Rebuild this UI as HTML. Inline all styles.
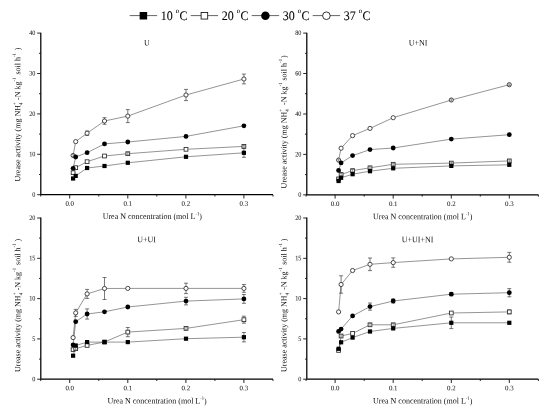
<!DOCTYPE html>
<html><head><meta charset="utf-8"><title>Urease activity</title>
<style>
html,body{margin:0;padding:0;background:#fff}
svg{display:block}
text{font-family:"Liberation Serif","DejaVu Serif",serif;fill:#1a1a1a}
.tk{font-size:6.9px;fill:#111;stroke:#111;stroke-width:0.03px}
.lb{font-size:8px;fill:#111}
.ss{font-size:4.8px}
.lg{font-size:13px;fill:#000;stroke:#000;stroke-width:0.08px}
</style></head><body>
<svg width="550" height="412" viewBox="0 0 550 412">
<rect width="550" height="412" fill="#fff"/>
<polyline points="73.1,178.5 75.7,175.9 87.1,168.0 104.5,166.0 127.8,162.8 186.0,156.8 243.9,152.8" fill="none" stroke="#2a2a2a" stroke-width="0.5"/>
<polyline points="73.1,172.7 75.7,167.7 87.1,161.7 104.5,156.0 127.8,153.7 186.0,149.3 243.9,146.4" fill="none" stroke="#2a2a2a" stroke-width="0.5"/>
<polyline points="73.1,168.3 75.7,157.0 87.1,152.7 104.5,143.9 127.8,142.0 186.0,136.4 243.9,125.8" fill="none" stroke="#2a2a2a" stroke-width="0.5"/>
<polyline points="73.1,155.5 75.7,141.6 87.1,133.2 104.5,121.0 127.8,116.1 186.0,95.0 243.9,79.0" fill="none" stroke="#2a2a2a" stroke-width="0.5"/>
<path d="M243.9 148.3V157.3M241.9 148.3h4M241.9 157.3h4" stroke="#333" stroke-width="0.65" fill="none"/>
<path d="M87.1 131.0V135.4M85.1 131.0h4M85.1 135.4h4" stroke="#333" stroke-width="0.65" fill="none"/>
<path d="M104.5 117.7V124.3M102.5 117.7h4M102.5 124.3h4" stroke="#333" stroke-width="0.65" fill="none"/>
<path d="M127.8 109.6V122.6M125.8 109.6h4M125.8 122.6h4" stroke="#333" stroke-width="0.65" fill="none"/>
<path d="M186.0 89.4V100.6M184.0 89.4h4M184.0 100.6h4" stroke="#333" stroke-width="0.65" fill="none"/>
<path d="M243.9 74.1V83.9M241.9 74.1h4M241.9 83.9h4" stroke="#333" stroke-width="0.65" fill="none"/>
<rect x="71.20" y="170.80" width="3.80" height="3.80" fill="#fff" stroke="#2a2a2a" stroke-width="0.85"/>
<rect x="73.80" y="165.80" width="3.80" height="3.80" fill="#fff" stroke="#2a2a2a" stroke-width="0.85"/>
<rect x="85.20" y="159.80" width="3.80" height="3.80" fill="#fff" stroke="#2a2a2a" stroke-width="0.85"/>
<rect x="102.60" y="154.10" width="3.80" height="3.80" fill="#fff" stroke="#2a2a2a" stroke-width="0.85"/>
<rect x="125.90" y="151.80" width="3.80" height="3.80" fill="#fff" stroke="#2a2a2a" stroke-width="0.85"/>
<rect x="184.10" y="147.40" width="3.80" height="3.80" fill="#fff" stroke="#2a2a2a" stroke-width="0.85"/>
<rect x="242.00" y="144.50" width="3.80" height="3.80" fill="#fff" stroke="#2a2a2a" stroke-width="0.85"/>
<circle cx="73.10" cy="155.50" r="2.1" fill="#fff" stroke="#2a2a2a" stroke-width="0.85"/>
<circle cx="75.70" cy="141.60" r="2.1" fill="#fff" stroke="#2a2a2a" stroke-width="0.85"/>
<circle cx="87.10" cy="133.20" r="2.1" fill="#fff" stroke="#2a2a2a" stroke-width="0.85"/>
<circle cx="104.50" cy="121.00" r="2.1" fill="#fff" stroke="#2a2a2a" stroke-width="0.85"/>
<circle cx="127.80" cy="116.10" r="2.1" fill="#fff" stroke="#2a2a2a" stroke-width="0.85"/>
<circle cx="186.00" cy="95.00" r="2.1" fill="#fff" stroke="#2a2a2a" stroke-width="0.85"/>
<circle cx="243.90" cy="79.00" r="2.1" fill="#fff" stroke="#2a2a2a" stroke-width="0.85"/>
<path d="M127.8 152.6V154.8M126.2 152.6h3.2M126.2 154.8h3.2" stroke="#555" stroke-width="0.6" fill="none"/>
<path d="M243.9 145.5V147.3M242.3 145.5h3.2M242.3 147.3h3.2" stroke="#555" stroke-width="0.6" fill="none"/>
<path d="M73.1 154.3V156.7M71.5 154.3h3.2M71.5 156.7h3.2" stroke="#555" stroke-width="0.6" fill="none"/>
<rect x="71.00" y="176.40" width="4.20" height="4.20" fill="#000"/>
<rect x="73.60" y="173.80" width="4.20" height="4.20" fill="#000"/>
<rect x="85.00" y="165.90" width="4.20" height="4.20" fill="#000"/>
<rect x="102.40" y="163.90" width="4.20" height="4.20" fill="#000"/>
<rect x="125.70" y="160.70" width="4.20" height="4.20" fill="#000"/>
<rect x="183.90" y="154.70" width="4.20" height="4.20" fill="#000"/>
<rect x="241.80" y="150.70" width="4.20" height="4.20" fill="#000"/>
<circle cx="73.10" cy="168.30" r="2.4" fill="#000"/>
<circle cx="75.70" cy="157.00" r="2.4" fill="#000"/>
<circle cx="87.10" cy="152.70" r="2.4" fill="#000"/>
<circle cx="104.50" cy="143.90" r="2.4" fill="#000"/>
<circle cx="127.80" cy="142.00" r="2.4" fill="#000"/>
<circle cx="186.00" cy="136.40" r="2.4" fill="#000"/>
<circle cx="243.90" cy="125.80" r="2.4" fill="#000"/>
<path d="M40.8 32.65V194.7H273.0" stroke="#000" stroke-width="1.25" fill="none"/>
<path d="M40.8 194.7h-3.6M40.8 154.3h-3.6M40.8 113.9h-3.6M40.8 73.5h-3.6M40.8 33.1h-3.6M40.8 174.5h-1.8M40.8 134.1h-1.8M40.8 93.7h-1.8M40.8 53.3h-1.8M69.7 194.7v3.8M127.8 194.7v3.8M185.9 194.7v3.8M243.9 194.7v3.8M40.7 194.7v1.8M98.8 194.7v1.8M156.8 194.7v1.8M214.9 194.7v1.8M273.0 194.7v1.8" stroke="#111" stroke-width="0.9" fill="none"/>
<text transform="translate(35.4 196.7) rotate(0.05) scale(0.9 1)" text-anchor="end" class="tk">0</text>
<text transform="translate(35.4 156.3) rotate(0.05) scale(0.9 1)" text-anchor="end" class="tk">10</text>
<text transform="translate(35.4 115.9) rotate(0.05) scale(0.9 1)" text-anchor="end" class="tk">20</text>
<text transform="translate(35.4 75.5) rotate(0.05) scale(0.9 1)" text-anchor="end" class="tk">30</text>
<text transform="translate(35.4 35.1) rotate(0.05) scale(0.9 1)" text-anchor="end" class="tk">40</text>
<text transform="translate(69.7 205.8) rotate(0.05)" text-anchor="middle" class="tk">0.0</text>
<text transform="translate(127.8 205.8) rotate(0.05)" text-anchor="middle" class="tk">0.1</text>
<text transform="translate(185.9 205.8) rotate(0.05)" text-anchor="middle" class="tk">0.2</text>
<text transform="translate(243.9 205.8) rotate(0.05)" text-anchor="middle" class="tk">0.3</text>
<text transform="translate(146.8 45.45) rotate(0.05) scale(0.93 1)" text-anchor="middle" class="lb" style="font-size:8.6px">U</text>
<text transform="translate(20.3 181.6) rotate(-90.04)" text-anchor="start" class="lb">Urease activity (mg NH<tspan class="ss" dy="2.2">4</tspan><tspan class="ss" dx="-2.4" dy="-6.4">+</tspan><tspan dy="4.2" dx="2.3">-N kg</tspan><tspan class="ss" dy="-4.4">-1</tspan><tspan dy="4.4" dx="0.9"> soil h</tspan><tspan class="ss" dy="-4.4">-1</tspan><tspan dy="4.4" dx="2.8">)</tspan></text>
<text transform="translate(152.3 219.0) rotate(0.04) scale(0.965 1)" text-anchor="middle" class="lb" style="font-size:8.3px">Urea N concentration (mol L<tspan class="ss" dy="-3.9">-1</tspan><tspan dy="3.9">)</tspan></text>
<polyline points="338.6,181.0 341.1,177.8 352.6,174.2 370.0,171.2 393.2,168.3 451.3,165.9 509.3,164.8" fill="none" stroke="#2a2a2a" stroke-width="0.5"/>
<polyline points="338.6,178.9 341.1,174.5 352.6,170.6 370.0,167.8 393.2,164.3 451.3,163.1 509.3,160.9" fill="none" stroke="#2a2a2a" stroke-width="0.5"/>
<polyline points="338.6,170.4 341.1,162.9 352.6,155.6 370.0,149.6 393.2,148.0 451.3,139.1 509.3,134.7" fill="none" stroke="#2a2a2a" stroke-width="0.5"/>
<polyline points="338.6,160.1 341.1,148.2 352.6,135.6 370.0,128.4 393.2,117.7 451.3,100.0 509.3,84.7" fill="none" stroke="#2a2a2a" stroke-width="0.5"/>
<rect x="336.70" y="177.00" width="3.80" height="3.80" fill="#fff" stroke="#2a2a2a" stroke-width="0.85"/>
<rect x="339.20" y="172.60" width="3.80" height="3.80" fill="#fff" stroke="#2a2a2a" stroke-width="0.85"/>
<rect x="350.70" y="168.70" width="3.80" height="3.80" fill="#fff" stroke="#2a2a2a" stroke-width="0.85"/>
<rect x="368.10" y="165.90" width="3.80" height="3.80" fill="#fff" stroke="#2a2a2a" stroke-width="0.85"/>
<rect x="391.30" y="162.40" width="3.80" height="3.80" fill="#fff" stroke="#2a2a2a" stroke-width="0.85"/>
<rect x="449.40" y="161.20" width="3.80" height="3.80" fill="#fff" stroke="#2a2a2a" stroke-width="0.85"/>
<rect x="507.40" y="159.00" width="3.80" height="3.80" fill="#fff" stroke="#2a2a2a" stroke-width="0.85"/>
<circle cx="338.60" cy="160.10" r="2.1" fill="#fff" stroke="#2a2a2a" stroke-width="0.85"/>
<circle cx="341.10" cy="148.20" r="2.1" fill="#fff" stroke="#2a2a2a" stroke-width="0.85"/>
<circle cx="352.60" cy="135.60" r="2.1" fill="#fff" stroke="#2a2a2a" stroke-width="0.85"/>
<circle cx="370.00" cy="128.40" r="2.1" fill="#fff" stroke="#2a2a2a" stroke-width="0.85"/>
<circle cx="393.20" cy="117.70" r="2.1" fill="#fff" stroke="#2a2a2a" stroke-width="0.85"/>
<circle cx="451.30" cy="100.00" r="2.1" fill="#fff" stroke="#2a2a2a" stroke-width="0.85"/>
<circle cx="509.30" cy="84.70" r="2.1" fill="#fff" stroke="#2a2a2a" stroke-width="0.85"/>
<path d="M338.6 177.8V180.0M337.0 177.8h3.2M337.0 180.0h3.2" stroke="#555" stroke-width="0.6" fill="none"/>
<path d="M341.1 173.4V175.6M339.5 173.4h3.2M339.5 175.6h3.2" stroke="#555" stroke-width="0.6" fill="none"/>
<path d="M352.6 169.5V171.7M351.0 169.5h3.2M351.0 171.7h3.2" stroke="#555" stroke-width="0.6" fill="none"/>
<path d="M370.0 166.7V168.9M368.4 166.7h3.2M368.4 168.9h3.2" stroke="#555" stroke-width="0.6" fill="none"/>
<path d="M393.2 163.2V165.4M391.6 163.2h3.2M391.6 165.4h3.2" stroke="#555" stroke-width="0.6" fill="none"/>
<path d="M451.3 162.0V164.2M449.7 162.0h3.2M449.7 164.2h3.2" stroke="#555" stroke-width="0.6" fill="none"/>
<path d="M509.3 159.8V162.0M507.7 159.8h3.2M507.7 162.0h3.2" stroke="#555" stroke-width="0.6" fill="none"/>
<path d="M338.6 159.0V161.2M337.0 159.0h3.2M337.0 161.2h3.2" stroke="#555" stroke-width="0.6" fill="none"/>
<path d="M451.3 98.9V101.1M449.7 98.9h3.2M449.7 101.1h3.2" stroke="#555" stroke-width="0.6" fill="none"/>
<path d="M509.3 83.9V85.5M507.7 83.9h3.2M507.7 85.5h3.2" stroke="#555" stroke-width="0.6" fill="none"/>
<rect x="336.50" y="178.90" width="4.20" height="4.20" fill="#000"/>
<rect x="339.00" y="175.70" width="4.20" height="4.20" fill="#000"/>
<rect x="350.50" y="172.10" width="4.20" height="4.20" fill="#000"/>
<rect x="367.90" y="169.10" width="4.20" height="4.20" fill="#000"/>
<rect x="391.10" y="166.20" width="4.20" height="4.20" fill="#000"/>
<rect x="449.20" y="163.80" width="4.20" height="4.20" fill="#000"/>
<rect x="507.20" y="162.70" width="4.20" height="4.20" fill="#000"/>
<circle cx="338.60" cy="170.40" r="2.4" fill="#000"/>
<circle cx="341.10" cy="162.90" r="2.4" fill="#000"/>
<circle cx="352.60" cy="155.60" r="2.4" fill="#000"/>
<circle cx="370.00" cy="149.60" r="2.4" fill="#000"/>
<circle cx="393.20" cy="148.00" r="2.4" fill="#000"/>
<circle cx="451.30" cy="139.10" r="2.4" fill="#000"/>
<circle cx="509.30" cy="134.70" r="2.4" fill="#000"/>
<path d="M306.8 32.65V194.8H538.4" stroke="#000" stroke-width="1.25" fill="none"/>
<path d="M306.8 194.8h-3.6M306.8 154.4h-3.6M306.8 114.0h-3.6M306.8 73.5h-3.6M306.8 33.1h-3.6M306.8 174.6h-1.8M306.8 134.2h-1.8M306.8 93.7h-1.8M306.8 53.3h-1.8M335.1 194.8v3.8M393.2 194.8v3.8M451.3 194.8v3.8M509.3 194.8v3.8M306.1 194.8v1.8M364.2 194.8v1.8M422.2 194.8v1.8M480.3 194.8v1.8M538.4 194.8v1.8" stroke="#111" stroke-width="0.9" fill="none"/>
<text transform="translate(301.4 196.8) rotate(0.05) scale(0.9 1)" text-anchor="end" class="tk">0</text>
<text transform="translate(301.4 156.4) rotate(0.05) scale(0.9 1)" text-anchor="end" class="tk">20</text>
<text transform="translate(301.4 116.0) rotate(0.05) scale(0.9 1)" text-anchor="end" class="tk">40</text>
<text transform="translate(301.4 75.5) rotate(0.05) scale(0.9 1)" text-anchor="end" class="tk">60</text>
<text transform="translate(301.4 35.1) rotate(0.05) scale(0.9 1)" text-anchor="end" class="tk">80</text>
<text transform="translate(335.1 205.9) rotate(0.05)" text-anchor="middle" class="tk">0.0</text>
<text transform="translate(393.2 205.9) rotate(0.05)" text-anchor="middle" class="tk">0.1</text>
<text transform="translate(451.3 205.9) rotate(0.05)" text-anchor="middle" class="tk">0.2</text>
<text transform="translate(509.3 205.9) rotate(0.05)" text-anchor="middle" class="tk">0.3</text>
<text transform="translate(418 45.45) rotate(0.05) scale(0.93 1)" text-anchor="middle" class="lb" style="font-size:8.6px">U+NI</text>
<text transform="translate(286.5 188.4) rotate(-90.04)" text-anchor="start" class="lb">Urease activity (mg NH<tspan class="ss" dy="2.2">4</tspan><tspan class="ss" dx="-2.4" dy="-6.4">+</tspan><tspan dy="4.2" dx="4.1">-N kg</tspan><tspan class="ss" dy="-4.4">-1</tspan><tspan dy="4.4" dx="0.0"> soil h</tspan><tspan class="ss" dy="-4.4">-1</tspan><tspan dy="4.4" dx="1.0">)</tspan></text>
<text transform="translate(422.7 219.2) rotate(0.04) scale(0.965 1)" text-anchor="middle" class="lb" style="font-size:8.3px">Urea N concentration (mol L<tspan class="ss" dy="-3.9">-1</tspan><tspan dy="3.9">)</tspan></text>
<polyline points="73.1,355.7 75.7,345.5 87.1,342.1 104.5,342.1 127.8,342.1 186.0,338.7 243.9,337.2" fill="none" stroke="#2a2a2a" stroke-width="0.5"/>
<polyline points="73.1,349.6 75.7,348.7 87.1,345.4 104.5,342.0 127.8,332.1 186.0,328.4 243.9,319.7" fill="none" stroke="#2a2a2a" stroke-width="0.5"/>
<polyline points="73.1,344.9 75.7,321.7 87.1,314.0 104.5,311.8 127.8,307.0 186.0,301.1 243.9,298.9" fill="none" stroke="#2a2a2a" stroke-width="0.5"/>
<polyline points="73.1,337.6 75.7,312.9 87.1,293.9 104.5,288.5 127.8,288.4 186.0,288.4 243.9,288.4" fill="none" stroke="#2a2a2a" stroke-width="0.5"/>
<path d="M243.9 332.5V341.9M241.9 332.5h4M241.9 341.9h4" stroke="#333" stroke-width="0.65" fill="none"/>
<path d="M127.8 327.5V336.7M125.8 327.5h4M125.8 336.7h4" stroke="#333" stroke-width="0.65" fill="none"/>
<path d="M243.9 316.2V323.2M241.9 316.2h4M241.9 323.2h4" stroke="#333" stroke-width="0.65" fill="none"/>
<path d="M87.1 308.9V319.1M85.1 308.9h4M85.1 319.1h4" stroke="#333" stroke-width="0.65" fill="none"/>
<path d="M186.0 297.3V304.9M184.0 297.3h4M184.0 304.9h4" stroke="#333" stroke-width="0.65" fill="none"/>
<path d="M243.9 294.5V303.3M241.9 294.5h4M241.9 303.3h4" stroke="#333" stroke-width="0.65" fill="none"/>
<path d="M75.7 309.4V316.4M73.7 309.4h4M73.7 316.4h4" stroke="#333" stroke-width="0.65" fill="none"/>
<path d="M87.1 289.4V298.4M85.1 289.4h4M85.1 298.4h4" stroke="#333" stroke-width="0.65" fill="none"/>
<path d="M104.5 277.5V299.5M102.5 277.5h4M102.5 299.5h4" stroke="#333" stroke-width="0.65" fill="none"/>
<path d="M186.0 283.2V293.6M184.0 283.2h4M184.0 293.6h4" stroke="#333" stroke-width="0.65" fill="none"/>
<path d="M243.9 284.5V292.3M241.9 284.5h4M241.9 292.3h4" stroke="#333" stroke-width="0.65" fill="none"/>
<rect x="71.20" y="347.70" width="3.80" height="3.80" fill="#fff" stroke="#2a2a2a" stroke-width="0.85"/>
<rect x="73.80" y="346.80" width="3.80" height="3.80" fill="#fff" stroke="#2a2a2a" stroke-width="0.85"/>
<rect x="85.20" y="343.50" width="3.80" height="3.80" fill="#fff" stroke="#2a2a2a" stroke-width="0.85"/>
<rect x="102.60" y="340.10" width="3.80" height="3.80" fill="#fff" stroke="#2a2a2a" stroke-width="0.85"/>
<rect x="125.90" y="330.20" width="3.80" height="3.80" fill="#fff" stroke="#2a2a2a" stroke-width="0.85"/>
<rect x="184.10" y="326.50" width="3.80" height="3.80" fill="#fff" stroke="#2a2a2a" stroke-width="0.85"/>
<rect x="242.00" y="317.80" width="3.80" height="3.80" fill="#fff" stroke="#2a2a2a" stroke-width="0.85"/>
<circle cx="73.10" cy="337.60" r="2.1" fill="#fff" stroke="#2a2a2a" stroke-width="0.85"/>
<circle cx="75.70" cy="312.90" r="2.1" fill="#fff" stroke="#2a2a2a" stroke-width="0.85"/>
<circle cx="87.10" cy="293.90" r="2.1" fill="#fff" stroke="#2a2a2a" stroke-width="0.85"/>
<circle cx="104.50" cy="288.50" r="2.1" fill="#fff" stroke="#2a2a2a" stroke-width="0.85"/>
<circle cx="127.80" cy="288.40" r="2.1" fill="#fff" stroke="#2a2a2a" stroke-width="0.85"/>
<circle cx="186.00" cy="288.40" r="2.1" fill="#fff" stroke="#2a2a2a" stroke-width="0.85"/>
<circle cx="243.90" cy="288.40" r="2.1" fill="#fff" stroke="#2a2a2a" stroke-width="0.85"/>
<path d="M75.7 347.6V349.8M74.1 347.6h3.2M74.1 349.8h3.2" stroke="#555" stroke-width="0.6" fill="none"/>
<path d="M104.5 340.9V343.1M102.9 340.9h3.2M102.9 343.1h3.2" stroke="#555" stroke-width="0.6" fill="none"/>
<path d="M186.0 326.9V329.9M184.4 326.9h3.2M184.4 329.9h3.2" stroke="#555" stroke-width="0.6" fill="none"/>
<rect x="71.00" y="353.60" width="4.20" height="4.20" fill="#000"/>
<rect x="73.60" y="343.40" width="4.20" height="4.20" fill="#000"/>
<rect x="85.00" y="340.00" width="4.20" height="4.20" fill="#000"/>
<rect x="102.40" y="340.00" width="4.20" height="4.20" fill="#000"/>
<rect x="125.70" y="340.00" width="4.20" height="4.20" fill="#000"/>
<rect x="183.90" y="336.60" width="4.20" height="4.20" fill="#000"/>
<rect x="241.80" y="335.10" width="4.20" height="4.20" fill="#000"/>
<circle cx="73.10" cy="344.90" r="2.4" fill="#000"/>
<circle cx="75.70" cy="321.70" r="2.4" fill="#000"/>
<circle cx="87.10" cy="314.00" r="2.4" fill="#000"/>
<circle cx="104.50" cy="311.80" r="2.4" fill="#000"/>
<circle cx="127.80" cy="307.00" r="2.4" fill="#000"/>
<circle cx="186.00" cy="301.10" r="2.4" fill="#000"/>
<circle cx="243.90" cy="298.90" r="2.4" fill="#000"/>
<path d="M40.8 217.55V379.2H273.0" stroke="#000" stroke-width="1.25" fill="none"/>
<path d="M40.8 379.2h-3.6M40.8 338.9h-3.6M40.8 298.6h-3.6M40.8 258.3h-3.6M40.8 218.0h-3.6M40.8 359.1h-1.8M40.8 318.8h-1.8M40.8 278.4h-1.8M40.8 238.1h-1.8M69.7 379.2v3.8M127.8 379.2v3.8M185.9 379.2v3.8M243.9 379.2v3.8M40.7 379.2v1.8M98.8 379.2v1.8M156.8 379.2v1.8M214.9 379.2v1.8M273.0 379.2v1.8" stroke="#111" stroke-width="0.9" fill="none"/>
<text transform="translate(35.4 381.2) rotate(0.05) scale(0.9 1)" text-anchor="end" class="tk">0</text>
<text transform="translate(35.4 340.9) rotate(0.05) scale(0.9 1)" text-anchor="end" class="tk">5</text>
<text transform="translate(35.4 300.6) rotate(0.05) scale(0.9 1)" text-anchor="end" class="tk">10</text>
<text transform="translate(35.4 260.3) rotate(0.05) scale(0.9 1)" text-anchor="end" class="tk">15</text>
<text transform="translate(35.4 220.0) rotate(0.05) scale(0.9 1)" text-anchor="end" class="tk">20</text>
<text transform="translate(69.7 390.3) rotate(0.05)" text-anchor="middle" class="tk">0.0</text>
<text transform="translate(127.8 390.3) rotate(0.05)" text-anchor="middle" class="tk">0.1</text>
<text transform="translate(185.9 390.3) rotate(0.05)" text-anchor="middle" class="tk">0.2</text>
<text transform="translate(243.9 390.3) rotate(0.05)" text-anchor="middle" class="tk">0.3</text>
<text transform="translate(146.6 242.25) rotate(0.05) scale(0.93 1)" text-anchor="middle" class="lb" style="font-size:8.6px">U+UI</text>
<text transform="translate(20.3 372.0) rotate(-90.04)" text-anchor="start" class="lb">Urease activity (mg NH<tspan class="ss" dy="2.2">4</tspan><tspan class="ss" dx="-2.4" dy="-6.4">+</tspan><tspan dy="4.2" dx="2.3">-N kg</tspan><tspan class="ss" dy="-4.4">-1</tspan><tspan dy="4.4" dx="0.9"> soil h</tspan><tspan class="ss" dy="-4.4">-1</tspan><tspan dy="4.4" dx="1.9">)</tspan></text>
<text transform="translate(157.1 403.6) rotate(0.04) scale(0.965 1)" text-anchor="middle" class="lb" style="font-size:8.3px">Urea N concentration (mol L<tspan class="ss" dy="-3.9">-1</tspan><tspan dy="3.9">)</tspan></text>
<polyline points="338.6,348.8 341.1,342.3 352.6,337.6 370.0,331.5 393.2,328.4 451.3,322.8 509.3,322.8" fill="none" stroke="#2a2a2a" stroke-width="0.5"/>
<polyline points="338.6,350.4 341.1,336.0 352.6,333.4 370.0,324.8 393.2,324.8 451.3,313.0 509.3,311.9" fill="none" stroke="#2a2a2a" stroke-width="0.5"/>
<polyline points="338.6,331.4 341.1,329.1 352.6,315.9 370.0,306.6 393.2,301.0 451.3,294.2 509.3,292.7" fill="none" stroke="#2a2a2a" stroke-width="0.5"/>
<polyline points="338.6,311.9 341.1,284.5 352.6,270.5 370.0,264.3 393.2,262.6 451.3,258.9 509.3,257.3" fill="none" stroke="#2a2a2a" stroke-width="0.5"/>
<path d="M451.3 317.0V328.6M449.3 317.0h4M449.3 328.6h4" stroke="#333" stroke-width="0.65" fill="none"/>
<path d="M509.3 309.9V313.9M507.3 309.9h4M507.3 313.9h4" stroke="#333" stroke-width="0.65" fill="none"/>
<path d="M370.0 303.0V310.2M368.0 303.0h4M368.0 310.2h4" stroke="#333" stroke-width="0.65" fill="none"/>
<path d="M393.2 299.0V303.0M391.2 299.0h4M391.2 303.0h4" stroke="#333" stroke-width="0.65" fill="none"/>
<path d="M509.3 288.6V296.8M507.3 288.6h4M507.3 296.8h4" stroke="#333" stroke-width="0.65" fill="none"/>
<path d="M341.1 275.8V293.2M339.1 275.8h4M339.1 293.2h4" stroke="#333" stroke-width="0.65" fill="none"/>
<path d="M370.0 258.0V270.6M368.0 258.0h4M368.0 270.6h4" stroke="#333" stroke-width="0.65" fill="none"/>
<path d="M393.2 257.9V267.3M391.2 257.9h4M391.2 267.3h4" stroke="#333" stroke-width="0.65" fill="none"/>
<path d="M509.3 252.4V262.2M507.3 252.4h4M507.3 262.2h4" stroke="#333" stroke-width="0.65" fill="none"/>
<rect x="336.70" y="348.50" width="3.80" height="3.80" fill="#fff" stroke="#2a2a2a" stroke-width="0.85"/>
<rect x="339.20" y="334.10" width="3.80" height="3.80" fill="#fff" stroke="#2a2a2a" stroke-width="0.85"/>
<rect x="350.70" y="331.50" width="3.80" height="3.80" fill="#fff" stroke="#2a2a2a" stroke-width="0.85"/>
<rect x="368.10" y="322.90" width="3.80" height="3.80" fill="#fff" stroke="#2a2a2a" stroke-width="0.85"/>
<rect x="391.30" y="322.90" width="3.80" height="3.80" fill="#fff" stroke="#2a2a2a" stroke-width="0.85"/>
<rect x="449.40" y="311.10" width="3.80" height="3.80" fill="#fff" stroke="#2a2a2a" stroke-width="0.85"/>
<rect x="507.40" y="310.00" width="3.80" height="3.80" fill="#fff" stroke="#2a2a2a" stroke-width="0.85"/>
<circle cx="338.60" cy="311.90" r="2.1" fill="#fff" stroke="#2a2a2a" stroke-width="0.85"/>
<circle cx="341.10" cy="284.50" r="2.1" fill="#fff" stroke="#2a2a2a" stroke-width="0.85"/>
<circle cx="352.60" cy="270.50" r="2.1" fill="#fff" stroke="#2a2a2a" stroke-width="0.85"/>
<circle cx="370.00" cy="264.30" r="2.1" fill="#fff" stroke="#2a2a2a" stroke-width="0.85"/>
<circle cx="393.20" cy="262.60" r="2.1" fill="#fff" stroke="#2a2a2a" stroke-width="0.85"/>
<circle cx="451.30" cy="258.90" r="2.1" fill="#fff" stroke="#2a2a2a" stroke-width="0.85"/>
<circle cx="509.30" cy="257.30" r="2.1" fill="#fff" stroke="#2a2a2a" stroke-width="0.85"/>
<path d="M341.1 334.8V337.2M339.5 334.8h3.2M339.5 337.2h3.2" stroke="#555" stroke-width="0.6" fill="none"/>
<path d="M370.0 323.3V326.3M368.4 323.3h3.2M368.4 326.3h3.2" stroke="#555" stroke-width="0.6" fill="none"/>
<path d="M393.2 323.3V326.3M391.6 323.3h3.2M391.6 326.3h3.2" stroke="#555" stroke-width="0.6" fill="none"/>
<rect x="336.50" y="346.70" width="4.20" height="4.20" fill="#000"/>
<rect x="339.00" y="340.20" width="4.20" height="4.20" fill="#000"/>
<rect x="350.50" y="335.50" width="4.20" height="4.20" fill="#000"/>
<rect x="367.90" y="329.40" width="4.20" height="4.20" fill="#000"/>
<rect x="391.10" y="326.30" width="4.20" height="4.20" fill="#000"/>
<rect x="449.20" y="320.70" width="4.20" height="4.20" fill="#000"/>
<rect x="507.20" y="320.70" width="4.20" height="4.20" fill="#000"/>
<path d="M451.3 292.7V295.7M449.3 292.7h4M449.3 295.7h4" stroke="#333" stroke-width="0.65" fill="none"/>
<circle cx="338.60" cy="331.40" r="2.4" fill="#000"/>
<circle cx="341.10" cy="329.10" r="2.4" fill="#000"/>
<circle cx="352.60" cy="315.90" r="2.4" fill="#000"/>
<circle cx="370.00" cy="306.60" r="2.4" fill="#000"/>
<circle cx="393.20" cy="301.00" r="2.4" fill="#000"/>
<circle cx="451.30" cy="294.20" r="2.4" fill="#000"/>
<circle cx="509.30" cy="292.70" r="2.4" fill="#000"/>
<path d="M306.8 217.55V379.2H538.4" stroke="#000" stroke-width="1.25" fill="none"/>
<path d="M306.8 379.2h-3.6M306.8 338.9h-3.6M306.8 298.6h-3.6M306.8 258.3h-3.6M306.8 218.0h-3.6M306.8 359.1h-1.8M306.8 318.8h-1.8M306.8 278.4h-1.8M306.8 238.1h-1.8M335.1 379.2v3.8M393.2 379.2v3.8M451.3 379.2v3.8M509.3 379.2v3.8M306.1 379.2v1.8M364.2 379.2v1.8M422.2 379.2v1.8M480.3 379.2v1.8M538.4 379.2v1.8" stroke="#111" stroke-width="0.9" fill="none"/>
<text transform="translate(301.4 381.2) rotate(0.05) scale(0.9 1)" text-anchor="end" class="tk">0</text>
<text transform="translate(301.4 340.9) rotate(0.05) scale(0.9 1)" text-anchor="end" class="tk">5</text>
<text transform="translate(301.4 300.6) rotate(0.05) scale(0.9 1)" text-anchor="end" class="tk">10</text>
<text transform="translate(301.4 260.3) rotate(0.05) scale(0.9 1)" text-anchor="end" class="tk">15</text>
<text transform="translate(301.4 220.0) rotate(0.05) scale(0.9 1)" text-anchor="end" class="tk">20</text>
<text transform="translate(335.1 390.3) rotate(0.05)" text-anchor="middle" class="tk">0.0</text>
<text transform="translate(393.2 390.3) rotate(0.05)" text-anchor="middle" class="tk">0.1</text>
<text transform="translate(451.3 390.3) rotate(0.05)" text-anchor="middle" class="tk">0.2</text>
<text transform="translate(509.3 390.3) rotate(0.05)" text-anchor="middle" class="tk">0.3</text>
<text transform="translate(417.6 242.25) rotate(0.05) scale(0.93 1)" text-anchor="middle" class="lb" style="font-size:8.6px">U+UI+NI</text>
<text transform="translate(286.5 372.0) rotate(-90.04)" text-anchor="start" class="lb">Urease activity (mg NH<tspan class="ss" dy="2.2">4</tspan><tspan class="ss" dx="-2.4" dy="-6.4">+</tspan><tspan dy="4.2" dx="2.8">-N kg</tspan><tspan class="ss" dy="-4.4">-1</tspan><tspan dy="4.4" dx="0.6"> soil h</tspan><tspan class="ss" dy="-4.4">-1</tspan><tspan dy="4.4" dx="1.9">)</tspan></text>
<text transform="translate(422.7 403.6) rotate(0.04) scale(0.965 1)" text-anchor="middle" class="lb" style="font-size:8.3px">Urea N concentration (mol L<tspan class="ss" dy="-3.9">-1</tspan><tspan dy="3.9">)</tspan></text>
<path d="M129.7 15.6h27.4" stroke="#111" stroke-width="0.65"/>
<rect x="139.65" y="12.00" width="7.5" height="7.5" fill="#000"/>
<text transform="translate(160.7 19.9) rotate(0.03) scale(0.925 1)" class="lg">10 <tspan font-size="7" dy="-6.9">o</tspan><tspan dy="6.9" dx="0.6">C</tspan></text>
<path d="M190.7 15.6h27.4" stroke="#111" stroke-width="0.65"/>
<rect x="201.10" y="12.45" width="6.6" height="6.6" fill="#fff" stroke="#111" stroke-width="0.85"/>
<text transform="translate(221.7 19.9) rotate(0.03) scale(0.925 1)" class="lg">20 <tspan font-size="7" dy="-6.9">o</tspan><tspan dy="6.9" dx="0.6">C</tspan></text>
<path d="M251.7 15.6h27.4" stroke="#111" stroke-width="0.65"/>
<circle cx="265.40" cy="15.75" r="4.25" fill="#000"/>
<text transform="translate(282.7 19.9) rotate(0.03) scale(0.925 1)" class="lg">30 <tspan font-size="7" dy="-6.9">o</tspan><tspan dy="6.9" dx="0.6">C</tspan></text>
<path d="M312.7 15.6h27.4" stroke="#111" stroke-width="0.65"/>
<circle cx="326.40" cy="15.75" r="3.8" fill="#fff" stroke="#111" stroke-width="0.85"/>
<text transform="translate(343.7 19.9) rotate(0.03) scale(0.925 1)" class="lg">37 <tspan font-size="7" dy="-6.9">o</tspan><tspan dy="6.9" dx="0.6">C</tspan></text>
</svg>
</body></html>
